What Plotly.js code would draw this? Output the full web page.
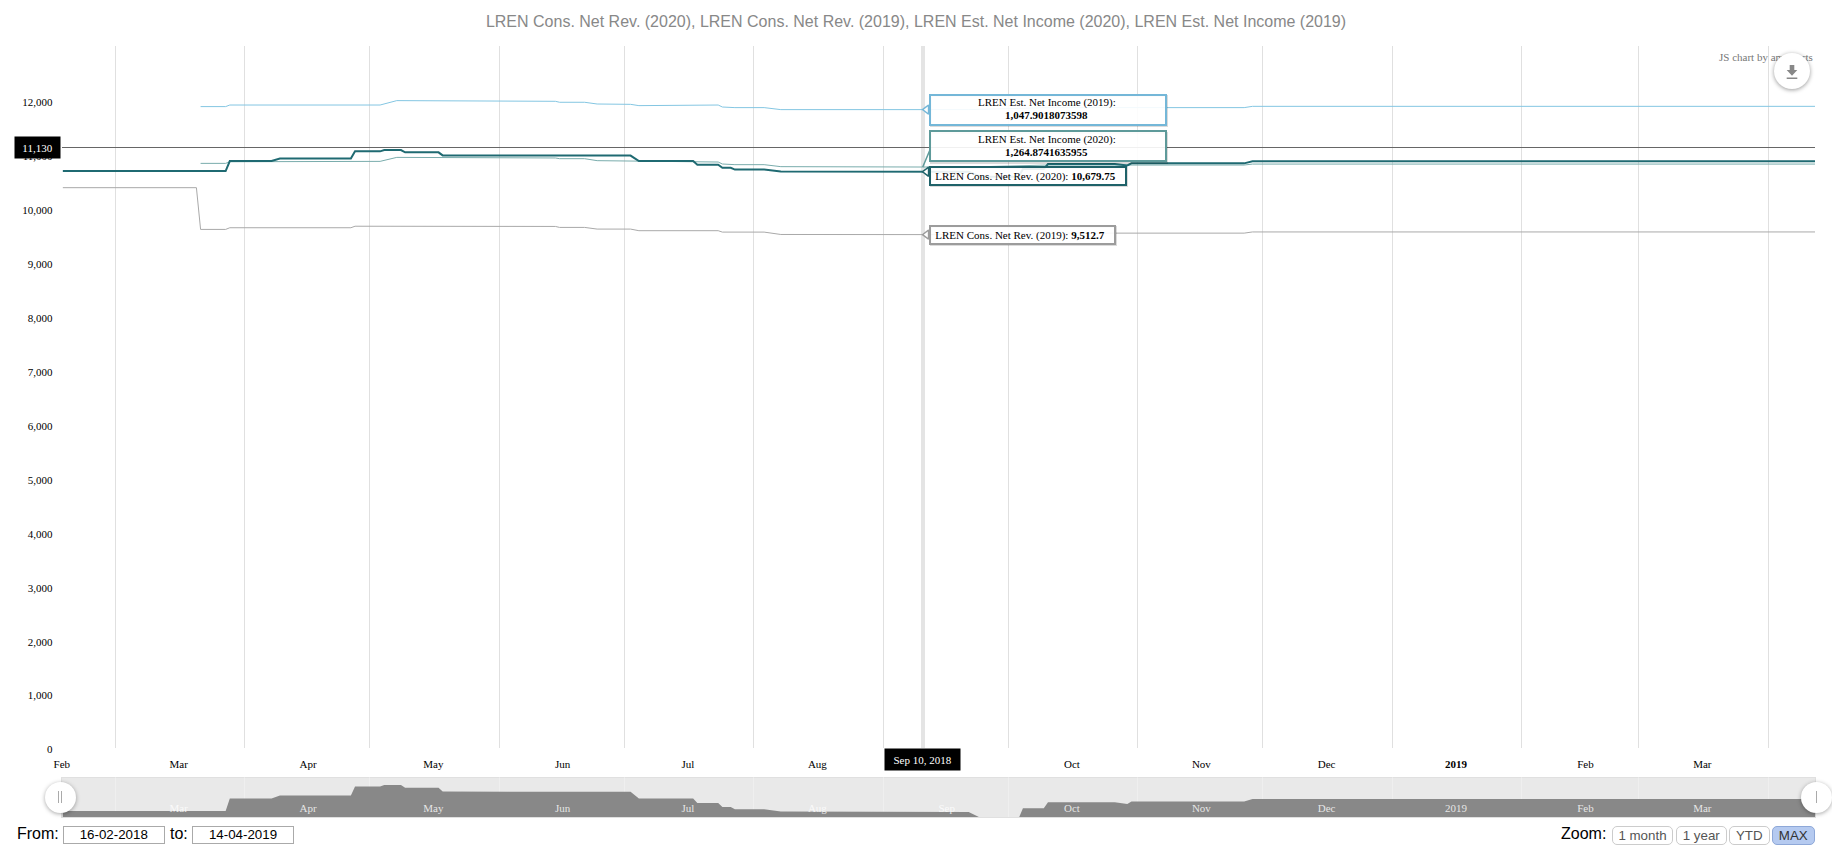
<!DOCTYPE html>
<html><head><meta charset="utf-8">
<script src="https://cdn.plot.ly/plotly-3.0.1.min.js"></script>
<style>
html,body{margin:0;padding:0;background:#fff;width:1832px;height:854px;overflow:hidden}
#chart{position:absolute;left:0;top:0;width:1832px;height:854px}
.shapelayer path{shape-rendering:crispEdges}
.t{position:absolute;font-family:"Liberation Sans",Arial,sans-serif;white-space:nowrap}
.lab{font-size:16px;color:#000;line-height:20px}
.inp{box-sizing:border-box;border:1px solid #aaa;height:18.5px;line-height:16.5px;font-size:13.33px;text-align:center;color:#000;background:#fff}
.btn{box-sizing:border-box;border:1px solid #ccc;border-radius:5px;height:19px;line-height:17px;font-size:13.33px;text-align:center;color:#555;background:#fff}
.btn.on{background:#b5caf0;border-color:#8ea8d8;color:#333}
.handle{position:absolute;width:31px;height:31px;border-radius:50%;background:#fff;box-shadow:0 1px 4px rgba(0,0,0,.35)}
.handle i{position:absolute;top:9px;height:12px;width:1px;background:#aaa}
#dl{position:absolute;left:1774px;top:53px;width:36px;height:36px;border-radius:50%;background:#fff;box-shadow:0 1px 4px rgba(0,0,0,.4)}
</style></head>
<body>
<div id="chart"></div>
<div class="handle" style="left:45px;top:782px"><i style="left:13px"></i><i style="left:16px"></i></div>
<div class="handle" style="left:1801px;top:782px"><i style="left:15px"></i></div>
<div id="dl"><svg width="36" height="36" viewBox="0 0 36 36"><path d="M15.7 12h4.6v5h3l-5.3 5.7-5.3-5.7h3z M12.7 24.5h10.6v1.6h-10.6z" fill="#888"/></svg></div>
<div class="t lab" style="left:17px;top:824px">From:</div>
<div class="t inp" style="left:63px;top:825.5px;width:101.5px">16-02-2018</div>
<div class="t lab" style="left:170px;top:824px">to:</div>
<div class="t inp" style="left:192px;top:825.5px;width:102px">14-04-2019</div>
<div class="t lab" style="left:1561px;top:824px">Zoom:</div>
<div class="t btn" style="left:1612px;top:826px;width:61px">1 month</div>
<div class="t btn" style="left:1676px;top:826px;width:50.5px">1 year</div>
<div class="t btn" style="left:1729px;top:826px;width:40.5px">YTD</div>
<div class="t btn on" style="left:1772px;top:826px;width:42.5px">MAX</div>
<script>
// ---- data ----
const rev2020Dates = ['2018-02-16','2018-03-27','2018-03-28','2018-04-07','2018-04-09','2018-04-26','2018-04-27','2018-05-03','2018-05-04','2018-05-08','2018-05-09','2018-05-17','2018-05-18','2018-07-02','2018-07-04','2018-07-17','2018-07-18','2018-07-23','2018-07-24','2018-07-26','2018-07-27','2018-08-03','2018-08-07','2018-09-05','2018-09-10','2018-09-21','2018-09-24','2018-10-03','2018-10-04','2018-10-09','2018-10-10','2018-10-26','2018-10-29','2018-10-30','2018-11-26','2018-11-28','2019-04-13'];
const rev2020Values = [10692,10692,10878,10878,10925,10925,11058,11058,11082,11082,11039,11039,10983,10979,10878,10878,10811,10811,10753,10753,10720,10720,10683,10677,10679.75,10678,10585,10585,10732,10732,10822,10822,10797,10835,10835,10872,10872];
const rev2019Dates = ['2018-02-16','2018-03-20','2018-03-21','2018-03-27','2018-03-28','2018-04-26','2018-04-27','2018-05-03','2018-05-04','2018-05-17','2018-05-18','2018-06-14','2018-06-15','2018-06-21','2018-06-24','2018-07-02','2018-07-04','2018-07-23','2018-07-24','2018-08-03','2018-08-07','2018-09-10','2018-09-21','2018-10-10','2018-11-26','2018-11-28','2019-04-13'];
const rev2019Values = [10384,10384,9610,9610,9641,9641,9669,9669,9678,9678,9665,9665,9647,9647,9616,9616,9586,9586,9560,9560,9516,9512.7,9512.7,9541,9541,9563,9563];
const ni2020Dates = ['2018-03-21','2018-03-27','2018-03-28','2018-05-03','2018-05-07','2018-05-17','2018-05-18','2018-06-14','2018-06-15','2018-06-21','2018-06-24','2018-07-04','2018-07-17','2018-07-23','2018-07-24','2018-07-27','2018-08-03','2018-08-07','2018-09-10','2018-09-21','2018-10-10','2018-11-26','2018-11-28','2019-04-13'];
const ni2020Plotted = [10835,10835,10865,10872,10946,10946,10941,10935,10922,10922,10885,10872,10860,10860,10823,10811,10811,10774,10767,10767,10804,10804,10822,10822];
const ni2019Dates = ['2018-03-21','2018-03-27','2018-03-28','2018-05-03','2018-05-07','2018-05-17','2018-05-18','2018-06-14','2018-06-15','2018-06-21','2018-06-24','2018-07-02','2018-07-04','2018-07-17','2018-07-23','2018-07-24','2018-07-27','2018-08-03','2018-08-07','2018-09-10','2018-09-21','2018-10-10','2018-11-26','2018-11-28','2019-04-13'];
const ni2019Plotted = [11888,11888,11917,11917,11999,11999,11986,11986,11968,11968,11936,11930,11906,11917,11917,11880,11869,11869,11832,11832,11832,11869,11869,11893,11893];

const monthStarts = ['2018-03-01','2018-04-01','2018-05-01','2018-06-01','2018-07-01','2018-08-01','2018-09-01','2018-10-01','2018-11-01','2018-12-01','2019-01-01','2019-02-01','2019-03-01','2019-04-01'];
const mainTickDates = ['2018-02-16 06:00','2018-03-16 06:00','2018-04-16 06:00','2018-05-16 06:00','2018-06-16 06:00','2018-07-16 06:00','2018-08-16 06:00','2018-09-16 06:00','2018-10-16 06:00','2018-11-16 06:00','2018-12-16 06:00','2019-01-16 06:00','2019-02-16 06:00','2019-03-16 06:00'];
const mainTickText = ['Feb','Mar','Apr','May','Jun','Jul','Aug','Sep','Oct','Nov','Dec','<b>2019</b>','Feb','Mar'];
const navTickDates = mainTickDates.slice(1);
const navTickText = ['Mar','Apr','May','Jun','Jul','Aug','Sep','Oct','Nov','Dec','2019','Feb','Mar'];
const yTicks = [0,1000,2000,3000,4000,5000,6000,7000,8000,9000,10000,11000,12000];

const cursorDate = '2018-09-10 12:00';
const cursorValue = 11130;
const pointerDate = '2018-09-11 10:00';
const ni2019AtCursor = 11832, ni2020AtCursor = 10767, rev2020AtCursor = 10679.75, rev2019AtCursor = 9512.7;
const titleText = 'LREN Cons. Net Rev. (2020), LREN Cons. Net Rev. (2019), LREN Est. Net Income (2020), LREN Est. Net Income (2019)';

// ---- layout helpers ----
const W = 1832, H = 854;
const px = x => x / W, py = y => 1 - y / H;
const noon = a => a.map(d => d + ' 12:00');
const xRange = ['2018-02-16 06:00', '2019-04-12 06:00'];
const serif = '"Liberation Serif","Times New Roman",serif';
const sans = '"Liberation Sans",Arial,sans-serif';
const C = {rev20:'#1f6a72', rev19:'#a9a9a9', ni20:'#79acac', ni19:'#84c6e2',
           bRev20:'#1f6269', bRev19:'#9c9c9c', bNi20:'#5e9a9a', bNi19:'#74b7d8'};

function line(x, y, name, color, width) {
  return {type:'scatter', mode:'lines', x:noon(x), y, name, xaxis:'x', yaxis:'y',
          line:{color, width, shape:'linear'}, hoverinfo:'skip'};
}
function pointer(y, color) {
  return {type:'scatter', mode:'markers', x:[pointerDate], y:[y], xaxis:'x', yaxis:'y', cliponaxis:false,
          marker:{symbol:'triangle-left', size:8, color:'#fff', line:{color, width:1.5}}, hoverinfo:'skip'};
}
const traces = [
  line(rev2019Dates, rev2019Values, 'LREN Cons. Net Rev. (2019)', C.rev19, 1),
  line(ni2019Dates, ni2019Plotted, 'LREN Est. Net Income (2019)', C.ni19, 1),
  line(ni2020Dates, ni2020Plotted, 'LREN Est. Net Income (2020)', C.ni20, 1),
  line(rev2020Dates, rev2020Values, 'LREN Cons. Net Rev. (2020)', C.rev20, 2),
  pointer(ni2019AtCursor, C.bNi19),
  pointer(rev2020AtCursor, C.bRev20),
  pointer(rev2019AtCursor, C.bRev19),
  {type:'scatter', mode:'lines', x:noon(rev2020Dates), y:rev2020Values, xaxis:'x2', yaxis:'y2',
   fill:'tozeroy', fillcolor:'#888888', line:{width:0, color:'#888888'}, hoverinfo:'skip'}
];

function shadow(y, w, h, yshift) {
  return {xref:'x', yref:'y', x:cursorDate, y, text:'&nbsp;', showarrow:false, xanchor:'left', yanchor:'middle',
          xshift:7.5, yshift:yshift-1.5, width:w, height:h, bgcolor:'rgba(0,0,0,0)',
          bordercolor:'rgba(0,0,0,0.14)', borderwidth:2, borderpad:0, font:{family:serif, size:11, color:'rgba(0,0,0,0)'}};
}
function balloon(y, text, border, w, h, yshift) {
  return {xref:'x', yref:'y', x:cursorDate, y, text, showarrow:false, xanchor:'left', yanchor:'middle',
          xshift:6, yshift, width:w, height:h, align:'center', bgcolor:'rgba(255,255,255,0.9)',
          bordercolor:border, borderwidth:2, borderpad:0,
          font:{family:serif, size:11, color:'#000'}};
}
function balloonLine(y, text, yshift) {
  return {xref:'x', yref:'y', x:cursorDate, y, text, showarrow:false, xanchor:'center', yanchor:'middle',
          xshift:124, yshift, font:{family:serif, size:11, color:'#000'}};
}
const annotations = [
  shadow(ni2019AtCursor, 234, 28, 0),
  shadow(ni2020AtCursor, 234, 28, 21),
  shadow(rev2020AtCursor, 194, 16, -4),
  shadow(rev2019AtCursor, 183, 16, 0),
  balloon(ni2019AtCursor, '&nbsp;', C.bNi19, 234, 28, 0),
  balloonLine(ni2019AtCursor, 'LREN Est. Net Income (2019):', 7),
  balloonLine(ni2019AtCursor, '<b>1,047.9018073598</b>', -5.4),
  balloon(ni2020AtCursor, '&nbsp;', C.bNi20, 234, 28, 21),
  balloonLine(ni2020AtCursor, 'LREN Est. Net Income (2020):', 27.4),
  balloonLine(ni2020AtCursor, '<b>1,264.8741635955</b>', 15),
  balloon(rev2020AtCursor, 'LREN Cons. Net Rev. (2020): <b>10,679.75</b>&nbsp;&nbsp;', C.bRev20, 194, 16, -4),
  balloon(rev2019AtCursor, 'LREN Cons. Net Rev. (2019): <b>9,512.7</b>&nbsp;&nbsp;', C.bRev19, 183, 16, 0),
  {xref:'x', yref:'y', x:cursorDate, y:ni2020AtCursor, text:'', showarrow:true, arrowhead:0, arrowwidth:1.5,
   arrowcolor:C.bNi20, ax:8, ay:-19, axref:'pixel', ayref:'pixel', standoff:0},
  {xref:'paper', yref:'y', x:px(61), y:cursorValue, text:'11,130', showarrow:false, xanchor:'right', yanchor:'middle',
   width:45, height:21, bgcolor:'#000', borderpad:0, font:{family:serif, size:11, color:'#fff'}},
  {xref:'x', yref:'paper', x:cursorDate, y:py(748), text:'Sep 10, 2018', showarrow:false, xanchor:'center', yanchor:'top',
   width:75, height:21, bgcolor:'#000', borderpad:0, font:{family:serif, size:11, color:'#fff'}},
  {xref:'paper', yref:'paper', x:px(1815), y:py(56.5), text:'JS chart by amCharts', showarrow:false, xanchor:'right', yanchor:'middle',
   font:{family:serif, size:11, color:'#777'}}
];

const shapes = [
  {type:'rect', xref:'x2 domain', yref:'y2 domain', x0:0, x1:1, y0:0, y1:1, layer:'below',
   fillcolor:'#e9e9e9', line:{color:'#e0e0e0', width:1}},
  {type:'line', xref:'x', yref:'y domain', x0:cursorDate, x1:cursorDate, y0:0, y1:1, layer:'below',
   line:{color:'#e4e4e4', width:4}},
  {type:'line', xref:'x domain', yref:'y', x0:0, x1:1, y0:cursorValue, y1:cursorValue, layer:'above',
   line:{color:'#666666', width:1}}
];

const layout = {
  width:W, height:H, autosize:false, margin:{l:0, r:0, t:0, b:0, pad:0, autoexpand:false},
  paper_bgcolor:'#fff', plot_bgcolor:'rgba(0,0,0,0)', showlegend:false, hovermode:false,
  title:{text:titleText, x:0.5, xanchor:'center', y:py(21), yanchor:'middle', yref:'paper',
         font:{family:sans, size:16, color:'#888'}},
  xaxis:{domain:[px(61.8), px(1815)], range:xRange, type:'date', anchor:'y', showgrid:false, zeroline:false, showline:false,
         tickmode:'array', tickvals:mainTickDates, ticktext:mainTickText, ticks:'outside', ticklen:6, tickcolor:'rgba(0,0,0,0)',
         tickangle:0, tickfont:{family:serif, size:11, color:'#000'},
         minor:{tickmode:'array', tickvals:monthStarts, showgrid:true, gridcolor:'#e0e0e0', gridwidth:1, ticks:''}},
  yaxis:{domain:[py(747.5), py(46)], range:[0, 13012], anchor:'x', showgrid:false, zeroline:false, showline:false,
         tickmode:'array', tickvals:yTicks, tickformat:',d', ticks:'outside', ticklen:6, tickcolor:'rgba(0,0,0,0)',
         tickfont:{family:serif, size:11, color:'#000'}, ticklabelshift:2},
  xaxis2:{domain:[px(61.8), px(1815)], range:xRange, type:'date', anchor:'y2', showgrid:false, zeroline:false, showline:false,
          tickmode:'array', tickvals:navTickDates, ticktext:navTickText, ticks:'', ticklabelposition:'inside',
          tickangle:0, tickfont:{family:serif, size:11, color:'rgba(255,255,255,0.8)'},
          minor:{tickmode:'array', tickvals:monthStarts, showgrid:true, gridcolor:'rgba(255,255,255,0.3)', gridwidth:1, ticks:''}},
  yaxis2:{domain:[py(817), py(777)], range:[10602, 11202], anchor:'x2', showgrid:false, zeroline:false, showline:false, showticklabels:false, ticks:''},
  annotations, shapes
};
Plotly.newPlot('chart', traces, layout, {displayModeBar:false, staticPlot:true});
</script>
</body></html>
